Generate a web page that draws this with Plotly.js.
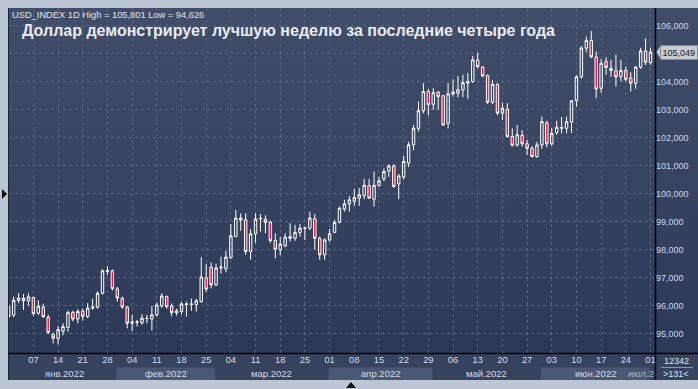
<!DOCTYPE html>
<html><head><meta charset="utf-8">
<script src="https://cdn.plot.ly/plotly-3.0.1.min.js"></script>
<style>html,body{margin:0;padding:0;background:#bcc6d4;}#chart{width:698px;height:389px;}</style>
</head><body><div id="chart"></div>
<script>
const dates = [
'2021-12-31',
'2022-01-03','2022-01-04','2022-01-05','2022-01-06','2022-01-07',
'2022-01-10','2022-01-11','2022-01-12','2022-01-13','2022-01-14',
'2022-01-17','2022-01-18','2022-01-19','2022-01-20','2022-01-21',
'2022-01-24','2022-01-25','2022-01-26','2022-01-27','2022-01-28',
'2022-01-31','2022-02-01','2022-02-02','2022-02-03','2022-02-04',
'2022-02-07','2022-02-08','2022-02-09','2022-02-10','2022-02-11',
'2022-02-14','2022-02-15','2022-02-16','2022-02-17','2022-02-18',
'2022-02-21','2022-02-22','2022-02-23','2022-02-24','2022-02-25',
'2022-02-28','2022-03-01','2022-03-02','2022-03-03','2022-03-04',
'2022-03-07','2022-03-08','2022-03-09','2022-03-10','2022-03-11',
'2022-03-14','2022-03-15','2022-03-16','2022-03-17','2022-03-18',
'2022-03-21','2022-03-22','2022-03-23','2022-03-24','2022-03-25',
'2022-03-28','2022-03-29','2022-03-30','2022-03-31','2022-04-01',
'2022-04-04','2022-04-05','2022-04-06','2022-04-07','2022-04-08',
'2022-04-11','2022-04-12','2022-04-13','2022-04-14','2022-04-15',
'2022-04-18','2022-04-19','2022-04-20','2022-04-21','2022-04-22',
'2022-04-25','2022-04-26','2022-04-27','2022-04-28','2022-04-29',
'2022-05-02','2022-05-03','2022-05-04','2022-05-05','2022-05-06',
'2022-05-09','2022-05-10','2022-05-11','2022-05-12','2022-05-13',
'2022-05-16','2022-05-17','2022-05-18','2022-05-19','2022-05-20',
'2022-05-23','2022-05-24','2022-05-25','2022-05-26','2022-05-27',
'2022-05-30','2022-05-31','2022-06-01','2022-06-02','2022-06-03',
'2022-06-06','2022-06-07','2022-06-08','2022-06-09','2022-06-10',
'2022-06-13','2022-06-14','2022-06-15','2022-06-16','2022-06-17',
'2022-06-20','2022-06-21','2022-06-22','2022-06-23','2022-06-24',
'2022-06-27','2022-06-28','2022-06-29','2022-06-30','2022-07-01'
];
const open = [
95.97,
95.67,96.20,96.27,96.18,96.30,
95.74,95.96,95.60,94.98,94.84,
95.10,95.23,95.77,95.53,95.82,
95.62,95.92,95.95,96.45,97.23,
97.25,96.60,96.27,95.96,95.38,
95.43,95.40,95.56,95.53,95.68,
96.00,96.33,96.00,95.75,95.80,
96.05,96.07,96.05,96.15,97.00,
97.38,96.75,97.35,97.32,97.72,
98.47,99.13,99.07,97.94,98.57,
99.10,99.09,98.98,98.33,98.00,
98.14,98.47,98.41,98.62,98.77,
98.77,99.11,98.41,97.82,98.35,
98.62,98.98,99.45,99.64,99.73,
99.84,99.93,100.29,99.80,100.29,
100.52,100.81,100.99,100.35,100.59,
101.09,101.74,102.33,102.96,103.64,
103.19,103.62,103.49,102.51,103.56,
103.58,103.70,103.94,104.00,104.77,
104.51,104.21,103.26,103.90,102.87,
103.01,102.04,101.73,102.08,101.78,
101.62,101.32,101.74,102.53,101.78,
102.18,102.36,102.33,102.55,103.31,
104.17,105.19,105.46,104.87,103.76,
104.71,104.39,104.39,104.17,104.39,
104.12,103.94,104.51,105.09,104.67
];
const high = [
96.05,
96.33,96.45,96.42,96.45,96.33,
96.20,96.08,95.68,95.05,95.27,
95.38,95.83,95.83,95.88,95.90,
96.10,96.26,96.52,97.30,97.42,
97.30,96.68,96.33,96.00,95.68,
95.50,95.70,95.68,96.00,96.12,
96.45,96.37,96.08,95.90,96.15,
96.15,96.26,96.25,97.74,97.50,
97.55,97.50,97.75,97.96,98.92,
99.42,99.30,99.30,98.74,99.30,
99.27,99.23,99.05,98.59,98.46,
98.59,98.95,98.89,98.92,98.80,
99.36,99.28,98.47,98.41,98.74,
99.07,99.54,99.78,99.92,100.17,
100.20,100.53,100.53,100.79,100.60,
100.90,101.05,101.05,100.70,101.35,
101.85,102.45,103.28,103.94,103.73,
103.76,103.65,103.52,103.94,104.08,
104.20,104.24,104.30,104.91,105.03,
104.55,104.25,104.05,103.95,103.25,
103.23,102.33,102.45,102.27,101.92,
101.70,101.85,102.75,102.60,102.35,
102.60,102.73,102.75,103.34,104.22,
105.26,105.60,105.801,105.07,104.80,
104.87,104.77,104.95,104.77,104.53,
104.33,104.55,105.20,105.54,105.20
];
const low = [
95.55,
95.60,96.10,95.86,96.00,95.65,
95.68,95.57,94.99,94.66,94.626,
94.95,95.08,95.45,95.38,95.48,
95.56,95.86,95.90,96.40,97.10,
96.55,96.15,95.90,95.20,95.10,
95.27,95.33,95.38,95.12,95.62,
95.93,95.90,95.63,95.65,95.70,
95.62,95.82,95.80,96.12,96.50,
96.62,96.70,97.15,97.20,97.68,
98.45,98.68,97.82,97.64,98.24,
98.65,98.59,98.25,97.69,97.80,
98.09,98.29,98.32,98.47,98.35,
98.70,98.00,97.64,97.64,98.29,
98.59,98.94,99.36,99.36,99.57,
99.57,99.80,99.82,99.54,100.25,
100.45,100.60,100.20,99.80,100.50,
100.95,101.55,102.21,102.87,102.78,
102.99,102.99,102.42,102.33,103.46,
103.44,103.44,103.37,103.95,104.47,
104.15,103.20,103.20,102.80,102.63,
102.00,101.68,101.68,101.68,101.38,
101.30,101.28,101.60,101.65,101.70,
102.10,102.15,102.15,102.16,103.10,
104.10,105.05,104.83,103.40,103.60,
104.24,104.17,103.82,104.00,104.00,
103.64,103.74,104.45,104.59,104.60
];
const close = [
95.62,
96.20,96.28,96.18,96.32,95.72,
95.99,95.62,95.06,94.85,95.15,
95.26,95.76,95.53,95.80,95.63,
95.92,95.96,96.45,97.25,97.26,
96.62,96.28,95.96,95.38,95.43,
95.42,95.56,95.55,95.68,96.03,
96.35,95.97,95.76,95.82,96.07,
96.07,96.05,96.18,97.03,96.60,
96.75,97.35,97.38,97.74,98.50,
99.13,99.06,97.94,98.57,99.10,
99.12,98.98,98.33,98.02,98.20,
98.45,98.41,98.62,98.77,98.78,
99.13,98.41,97.82,98.35,98.57,
98.98,99.48,99.64,99.78,99.86,
99.96,100.30,99.84,100.30,100.46,
100.79,100.99,100.26,100.63,101.15,
101.74,102.33,102.96,103.64,103.17,
103.60,103.46,102.45,103.56,103.62,
103.70,103.96,104.00,104.77,104.53,
104.20,103.26,103.90,102.87,103.05,
102.04,101.73,102.10,101.78,101.62,
101.32,101.74,102.57,101.78,102.15,
102.37,102.34,102.57,103.31,104.17,
105.19,105.46,104.88,103.73,104.65,
104.50,104.47,104.17,104.39,104.08,
103.94,104.51,105.09,104.69,105.049
];
const yTicks = [95,96,97,98,99,100,101,102,103,104,105,106];
const monthLabels = ['янв.2022','фев.2022','мар.2022','апр.2022','май.2022','июн.2022','июл.2022'];
const chartTitle = 'Доллар демонстрирует лучшую неделю за последние четыре года';
const infoLine = 'USD_INDEX 1D High = 105,801 Low = 94,626';
const counterTop = '12342';
const counterBottom = '>131<';

// ---- helpers
function shift(d, days){
  const t = Date.parse(d + 'T00:00:00Z') + days*864e5;
  return new Date(t).toISOString().slice(0,19).replace('T',' ');
}
function idxToDate(idx){
  const b = Math.floor(idx);
  return shift(dates[b], idx - b);
}
const fridays = dates.filter(d => new Date(d + 'T00:00:00Z').getUTCDay() === 5);
const fridayText = fridays.map(d => d.slice(8,10));

const lastClose = close[close.length-1];
// the last-price tag hides the tick label that it covers
const yTickText = yTicks.map(v => Math.abs(v - lastClose) < 0.3 ? '' : v.toFixed(3).replace('.', ','));

// month boundaries
const monthKeys = [];
dates.forEach(d => { const k = d.slice(0,7); if (k !== '2021-12' && monthKeys.indexOf(k) < 0) monthKeys.push(k); });
const lastIdx = k => { let r = -1; dates.forEach((d,i)=>{ if (d.slice(0,7) === k) r = i; }); return r; };
const firstIdx = k => dates.findIndex(d => d.slice(0,7) === k);

const PX = (px) => (px - 9) / 646;      // paper x
const PY = (py) => (353 - py) / 345;    // paper y

const shapes = [];
const annotations = [];
const FONT = 'Liberation Sans, Arial, sans-serif';

// bottom axis panel
shapes.push({type:'rect', xref:'paper', yref:'paper', x0:PX(8), x1:PX(698), y0:PY(380), y1:PY(354),
  fillcolor:'#36425e', line:{width:0}, layer:'below'});

monthKeys.forEach((k, m) => {
  const start = firstIdx(k) - 1 + 0.8;
  const li = lastIdx(k);
  const end = (li === dates.length - 1) ? null : li + 0.8;
  if (m % 2 === 1 && end !== null) {
    shapes.push({type:'rect', xref:'x', yref:'paper', x0:idxToDate(start), x1:idxToDate(end),
      y0:PY(380), y1:PY(367.5), fillcolor:'#4b5875', line:{width:0}, layer:'below'});
  }
  if (end !== null) {
    annotations.push({x:idxToDate((start+end)/2), xref:'x', y:PY(373), yref:'paper',
      text:monthLabels[m], showarrow:false, xanchor:'center', yanchor:'middle',
      font:{family:FONT, size:9.5, color:'#d3dbea'}});
  } else {
    annotations.push({x:PX(656), xref:'paper', y:PY(373), yref:'paper',
      text:monthLabels[m].slice(0,5), showarrow:false, xanchor:'right', yanchor:'middle',
      font:{family:FONT, size:9.5, color:'#aab4c8'}});
  }
});

// frame lines
shapes.push({type:'line', xref:'paper', yref:'paper', x0:PX(8), x1:PX(698), y0:PY(353.5), y1:PY(353.5), line:{color:'#000000', width:1.5}});
shapes.push({type:'line', xref:'paper', yref:'paper', x0:PX(655.5), x1:PX(655.5), y0:PY(8), y1:PY(380), line:{color:'#000000', width:1.5}});
shapes.push({type:'line', xref:'paper', yref:'paper', x0:PX(8.5), x1:PX(8.5), y0:PY(8), y1:PY(380), line:{color:'#1b2336', width:1}});
// counter divider
shapes.push({type:'line', xref:'paper', yref:'paper', x0:PX(661), x1:PX(693), y0:PY(367.5), y1:PY(367.5), line:{color:'#8a96ad', width:1}});
// markers
shapes.push({type:'path', xref:'paper', yref:'paper',
  path:`M ${PX(2)} ${PY(189)} L ${PX(7)} ${PY(194)} L ${PX(2)} ${PY(199)} Z`, fillcolor:'#111111', line:{width:0}});
shapes.push({type:'path', xref:'paper', yref:'paper',
  path:`M ${PX(346)} ${PY(388)} L ${PX(351)} ${PY(382)} L ${PX(356)} ${PY(388)} Z`, fillcolor:'#111111', line:{width:0}});
// last price tag arrow
shapes.push({type:'path', xref:'paper', yref:'y',
  path:`M ${PX(656.5)} ${lastClose} L ${PX(660)} ${lastClose + 0.2} L ${PX(660)} ${lastClose - 0.2} Z`,
  fillcolor:'#c5cad3', line:{width:0}});

annotations.push({x:PX(660), xref:'paper', y:lastClose, yref:'y', text:lastClose.toFixed(3).replace('.', ','),
  showarrow:false, xanchor:'left', yanchor:'middle', bgcolor:'#c5cad3', borderpad:1.5,
  font:{family:FONT, size:9, color:'#1a1d24'}});
annotations.push({x:PX(10), xref:'paper', y:PY(15), yref:'paper', text:infoLine, showarrow:false,
  xanchor:'left', yanchor:'middle', font:{family:FONT, size:9.3, color:'#e2e6ee'}});
annotations.push({x:PX(20), xref:'paper', y:PY(30), yref:'paper', text:'<b>' + chartTitle + '</b>', showarrow:false,
  xanchor:'left', yanchor:'middle', font:{family:FONT, size:16, color:'#e8eaf0'}});
annotations.push({x:PX(676), xref:'paper', y:PY(361), yref:'paper', text:counterTop, showarrow:false,
  xanchor:'center', yanchor:'middle', font:{family:FONT, size:9, color:'#dfe5ef'}});
annotations.push({x:PX(676), xref:'paper', y:PY(374), yref:'paper', text:counterBottom, showarrow:false,
  xanchor:'center', yanchor:'middle', font:{family:FONT, size:9, color:'#dfe5ef'}});

const svg = '<svg xmlns="http://www.w3.org/2000/svg" width="10" height="100" preserveAspectRatio="none">' +
  '<defs><linearGradient id="g" x1="0" y1="0" x2="0" y2="1">' +
  '<stop offset="0" stop-color="#414d68"/><stop offset="1" stop-color="#2b3755"/></linearGradient></defs>' +
  '<rect width="10" height="100" fill="url(#g)"/></svg>';

const trace = {
  type:'candlestick', x:dates, open:open, high:high, low:low, close:close,
  increasing:{line:{color:'#ffffff', width:1}, fillcolor:'rgba(0,0,0,0)'},
  decreasing:{line:{color:'#ffffff', width:1}, fillcolor:'#e3173f'},
  whiskerwidth:0, hoverinfo:'skip', showlegend:false
};

const layout = {
  width:698, height:389,
  margin:{l:9, r:43, t:8, b:36, pad:0},
  paper_bgcolor:'#bcc6d4', plot_bgcolor:'rgba(0,0,0,0)',
  separators:', ',
  showlegend:false,
  font:{family:FONT, size:9, color:'#d3dbea'},
  xaxis:{
    type:'date',
    range:[shift(dates[0], 0.06), shift(dates[dates.length-1], 0.91)],
    rangebreaks:[{bounds:['sat','mon']}],
    rangeslider:{visible:false},
    tickmode:'array', tickvals:fridays, ticktext:fridayText,
    ticks:'', showgrid:true, gridcolor:'#56647f', griddash:'3px,3px', gridwidth:1,
    showline:false, zeroline:false,
    tickfont:{family:FONT, size:9.3, color:'#d3dbea'},
    fixedrange:true
  },
  yaxis:{
    side:'right', range:[94.32, 106.62],
    tickmode:'array', tickvals:yTicks, ticktext:yTickText,
    ticks:'', showgrid:true, gridcolor:'#56647f', griddash:'3px,3px', gridwidth:1,
    showline:false, zeroline:false,
    tickfont:{family:FONT, size:9, color:'#cad8f0'},
    fixedrange:true
  },
  images:[{source:'data:image/svg+xml;charset=utf-8,' + encodeURIComponent(svg),
    xref:'paper', yref:'paper', x:PX(8), y:PY(8), sizex:PX(698)-PX(8), sizey:PY(8)-PY(380),
    xanchor:'left', yanchor:'top', sizing:'stretch', layer:'below'}],
  shapes:shapes,
  annotations:annotations
};

Plotly.newPlot('chart', [trace], layout, {displayModeBar:false, staticPlot:true});
</script>
</body></html>
